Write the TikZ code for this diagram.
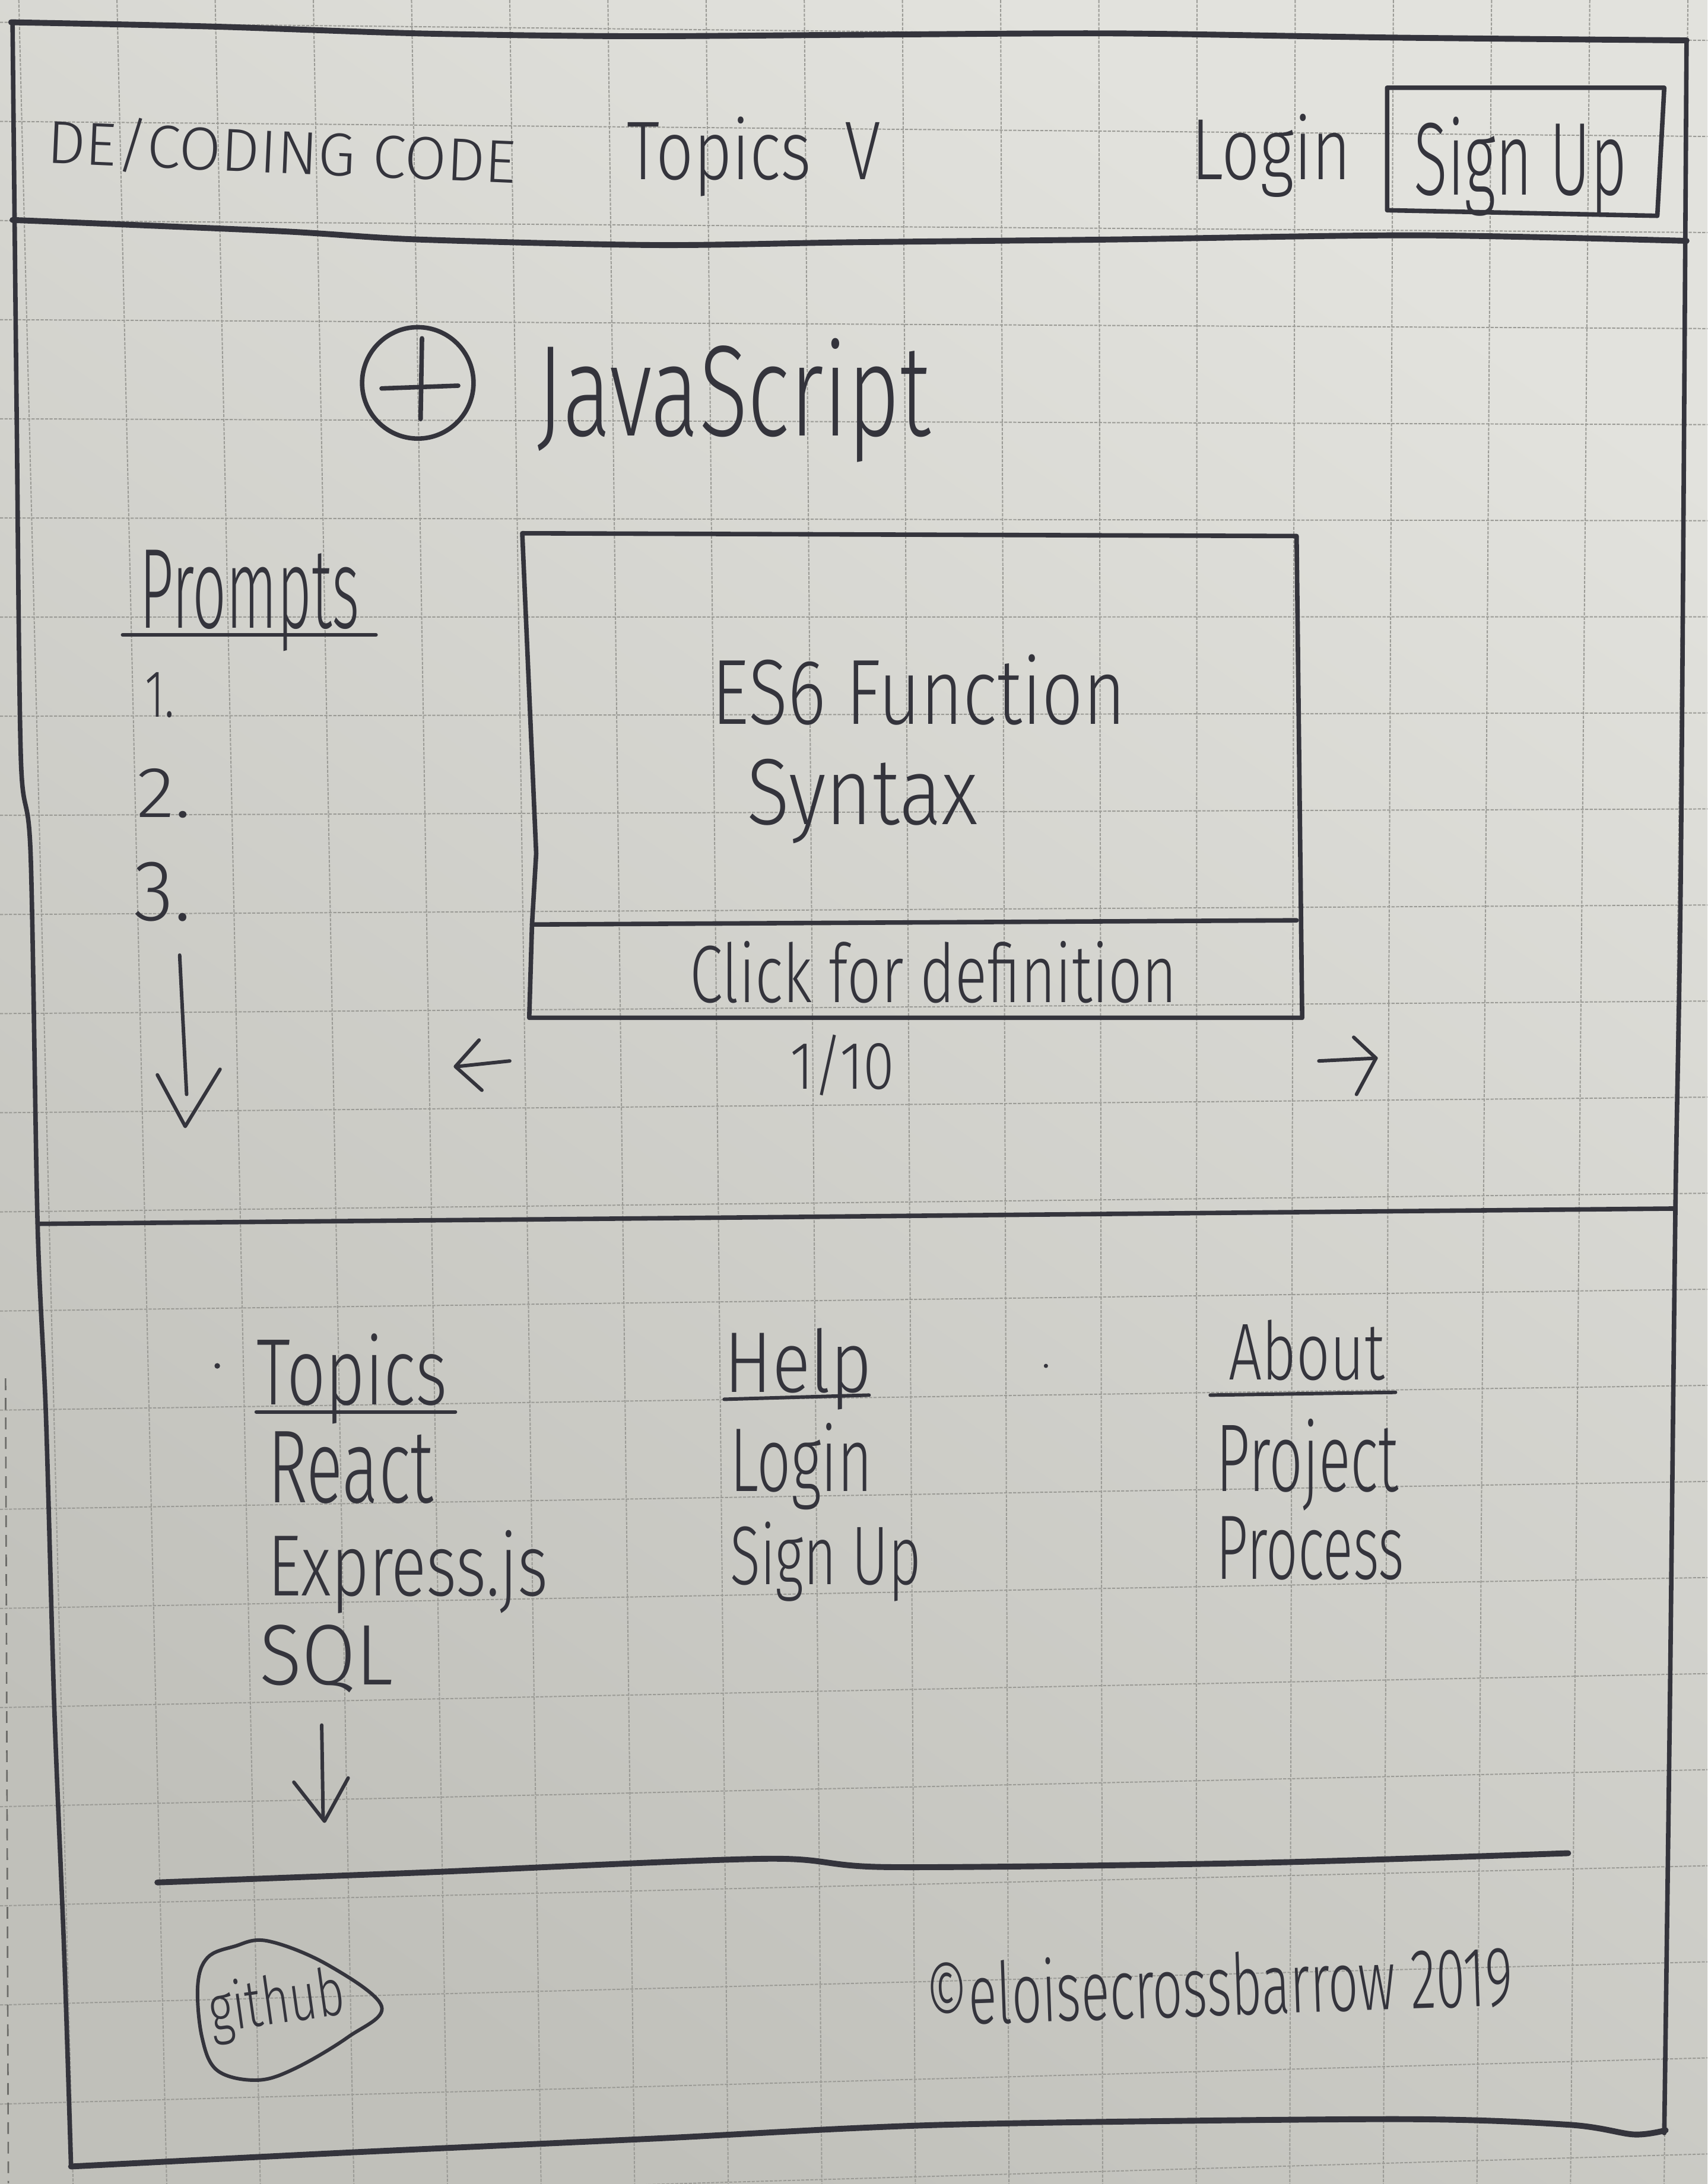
\documentclass[tikz,border=0pt]{standalone}
\usepackage{fontspec}
\setmainfont{Fira Sans}[UprightFont={* Light}]
\usepackage{graphicx}
\newlength\un
\setlength\un{0.25mm}
\newcommand\hw[3]{\resizebox{#1\un}{#2\un}{#3}}
\definecolor{ink}{RGB}{52,52,60}
\definecolor{gridc}{RGB}{155,155,150}
\definecolor{paperA}{RGB}{226,226,221}
\definecolor{paperB}{RGB}{192,192,186}
\begin{document}
\begin{tikzpicture}[x=0.25mm, y=-0.25mm,
  hand/.style={inner sep=0pt, anchor=base west, text=ink},
  pen/.style={draw=ink, line width=2.3pt, line cap=round, line join=round},
  heavy/.style={pen, line width=3pt},
  penthin/.style={pen, line width=1.8pt},
  gridline/.style={draw=gridc, line width=0.6pt, dash pattern=on 1.6pt off 0.7pt}]

\useasboundingbox (0,0) rectangle (1226,1568.6);
\shade[top color=paperA, bottom color=paperB, shading angle=-35] (0,0) rectangle (1226,1568.6);

% grid
\foreach \k in {0,...,17} \draw[gridline] ({13.5+70.5*\k},0) -- ({52.5+67.2*\k},1568.6);
\foreach \k in {0,...,22} \draw[gridline] (0,{16+71.2*\k}) -- (1226,{29+69*\k});
\draw[gridc!70!black, line width=0.8pt, dash pattern=on 6pt off 4pt] (4,990) -- (6,1568);

% outer frame
\draw[heavy] plot[smooth, tension=0.5] coordinates {(8,16) (150,19) (300,24) (450,26) (613,25) (800,24) (1000,27) (1211,29)};
\draw[pen] plot[smooth, tension=0.5] coordinates {(9,16) (12,300) (15,545) (22,614) (27,880) (33,1017) (39,1227) (46,1400) (51,1556)};
\draw[pen] plot[smooth, tension=0.5] coordinates {(1211,29) (1207,613) (1203,868) (1199,1227) (1195,1532)};
\draw[heavy] plot[smooth, tension=0.5] coordinates {(51,1556) (250,1546) (469,1536) (680,1526) (1000,1522) (1126,1526) (1173,1533) (1196,1530)};
% header line
\draw[heavy] plot[smooth, tension=0.5] coordinates {(9,158) (200,166) (300,172) (470,176) (612,174) (800,172) (1017,169) (1211,173)};
% section separator
\draw[pen] plot[smooth, tension=0.5] coordinates {(27,879) (469,875) (782,872) (1203,868)};
% footer line
\draw[heavy] plot[smooth, tension=0.5] coordinates {(113,1352) (300,1345) (549,1335) (639,1341) (900,1338) (1126,1331)};

% header
\node[hand, rotate=-2.5] (logo) at (33,117) {\hw{337}{35}{DE/CODING CODE}};
\node[hand] (topicsnav) at (450,129) {\hw{182}{45}{Topics\hspace{0.5em}V}};
\node[hand] (login) at (855,129) {\hw{115}{47}{Login}};
\node[hand] (signup) at (1015,140) {\hw{153}{56}{Sign Up}};
\draw[pen] (996,63) -- (1195,63) -- (1190,155) -- (996,151) -- cycle;

% topic title
\draw[pen] (300,275) circle (40);
\draw[pen] (274,279) -- (329,277);
\draw[pen] (303,243) -- (302,301);
\node[hand] (js) at (385,313) {\hw{283}{70}{JavaScript}};

% prompts
\node[hand] (prompts) at (100,451) {\hw{158}{56}{Prompts}};
\draw[penthin] (88,456) -- (270,456);
\node[hand] (p1) at (104,515) {\hw{21}{32}{1.}};
\node[hand] (p2) at (98,587) {\hw{39}{35}{2.}};
\node[hand] (p3) at (96,661) {\hw{41}{42}{3.}};
\draw[penthin] (129,686) -- (134,786);
\draw[penthin] (113,772) -- (133,809) -- (158,768);

% card
\draw[pen] (375,383) -- (931,385) -- (935,731) -- (380,731) -- (382,664) -- (385,613) -- cycle;
\draw[pen] (382,664) -- (931,661);
\node[hand] (es6) at (511,520) {\hw{297}{50}{ES6 Function}};
\node[hand] (syntax) at (536,592) {\hw{166}{47}{Syntax}};
\node[hand] (click) at (495,720) {\hw{350}{44}{Click for definition}};
\node[hand] (count) at (567,782) {\hw{75}{39}{1/10}};
\draw[penthin] (366,762) -- (328,766);
\draw[penthin] (344,747) -- (327,766) -- (346,783);
\draw[penthin] (947,762) -- (988,760);
\draw[penthin] (972,745) -- (988,760) -- (974,786);

% footer columns
\fill[ink] (156,981) circle (2);
\fill[ink] (751,981) circle (1.5);
\node[hand] (ftopics) at (184,1009) {\hw{137}{51}{Topics}};
\draw[penthin] (184,1014) -- (327,1014);
\node[hand] (freact) at (192,1079) {\hw{119}{51}{React}};
\node[hand] (fexpress) at (192,1146) {\hw{201}{47}{Express.js}};
\node[hand] (fsql) at (186,1210) {\hw{96}{43}{SQL}};
\draw[penthin] (231,1239) -- (232,1305);
\draw[penthin] (211,1280) -- (233,1308) -- (250,1277);

\node[hand] (fhelp) at (520,1000) {\hw{106}{46}{Help}};
\draw[penthin] (520,1005) -- (624,1002);
\node[hand] (flogin) at (524,1071) {\hw{102}{49}{Login}};
\node[hand] (fsignup) at (524,1138) {\hw{137}{45}{Sign Up}};

\node[hand] (fabout) at (882,991) {\hw{112}{43}{About}};
\draw[penthin] (869,1002) -- (1002,1000);
\node[hand] (fproject) at (873,1071) {\hw{131}{52}{Project}};
\node[hand] (fprocess) at (873,1134) {\hw{135}{45}{Process}};

% bottom bar
\draw[penthin] plot[smooth cycle, tension=0.6] coordinates {(192,1394) (235,1411) (274,1441) (250,1463) (211,1486) (184,1494) (156,1487) (145,1463) (142,1426) (149,1406) (168,1398)};
\node[hand, rotate=8] (github) at (152,1460) {\hw{98}{36}{github}};
\node[hand, rotate=2] (copy) at (665,1455) {\hw{422}{46}{©eloisecrossbarrow 2019}};
\end{tikzpicture}
\end{document}
